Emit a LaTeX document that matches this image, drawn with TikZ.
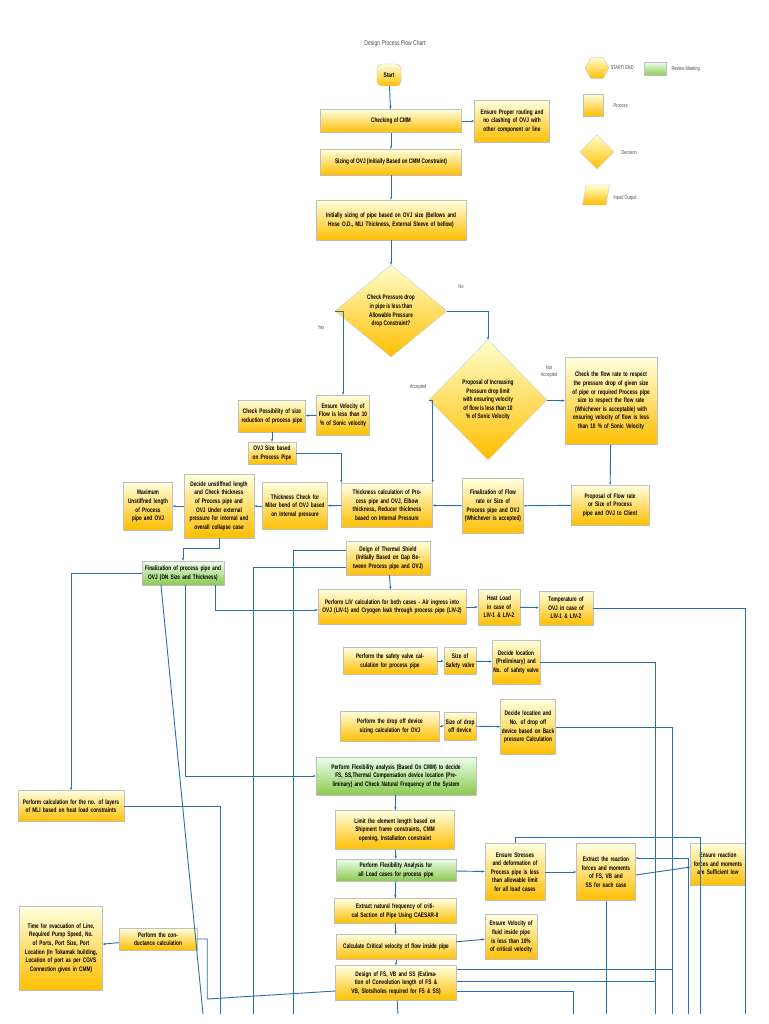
\documentclass[tikz,border=0pt]{standalone}
\usepackage{fontspec}
\setmainfont[FakeStretch=0.72]{Liberation Sans}
\usetikzlibrary{shapes.geometric,arrows.meta}
\definecolor{ln}{RGB}{40,110,180}
\definecolor{yb}{RGB}{255,190,0}
\definecolor{gb}{RGB}{140,200,80}
\tikzset{
 bx/.style={draw=black!25,top color=yellow!12,bottom color=yb,align=center,inner sep=1pt,
  font=\fontsize{6.6}{8.6}\selectfont\bfseries,drop shadow/.try},
 gx/.style={bx,top color=green!8,bottom color=gb},
 dm/.style={diamond,draw=black!20,top color=yellow!20,bottom color=yb,align=center,inner sep=0pt,
  font=\fontsize{6.6}{8.6}\selectfont\bfseries},
 lab/.style={font=\fontsize{5.5}{7}\selectfont,text=black!70},
 ar/.style={draw=ln,line width=0.9pt,-{Stealth[length=3pt]}},
 li/.style={draw=ln,line width=0.9pt},
}
\begin{document}
\begin{tikzpicture}[x=1pt,y=-1pt]
\useasboundingbox (0,0) rectangle (768,1024);
\fill[white] (0,0) rectangle (768,1024);
\node[lab,font=\fontsize{7}{8}\selectfont] (title) at (395,44) {Design Process Flow Chart};
% legend
\node[regular polygon,regular polygon sides=6,draw=black!20,top color=yellow!20,bottom color=yb,minimum size=24pt,inner sep=0] (lg1) at (597,68) {};
\node[lab,anchor=west] (lg1t) at (607,68) {START/ END};
\node[gx,minimum width=22pt,minimum height=13pt] (lg2) at (655,69) {};
\node[lab,anchor=west] (lg2t) at (668,69) {Review Meeting};
\node[bx,minimum width=20pt,minimum height=22pt] (lg3) at (593,105) {};
\node[lab,anchor=west] (lg3t) at (610,106) {Process};
\node[dm,minimum width=34pt,minimum height=34pt] (lg4) at (597,152) {};
\node[lab,anchor=west] (lg4t) at (618,153) {Decision};
\node[trapezium,trapezium left angle=80,trapezium right angle=100,draw=black!20,top color=yellow!20,bottom color=yb,minimum width=16pt,minimum height=20pt] (lg5) at (596,195) {};
\node[lab,anchor=west] (lg5t) at (610,198) {Input/ Output};
% main
\node[bx,rounded corners=5pt,minimum width=24pt,minimum height=22pt] (start) at (389,75) {Start};
\node[bx,minimum width=141pt,minimum height=23pt] (cmm) at (391,121) {Checking of CMM};
\node[bx,text width=73pt,minimum height=42pt] (route) at (512,121) {Ensure Proper routing and no clashing of OVJ with other component or line};
\node[bx,minimum width=141pt,minimum height=26pt] (sizing) at (391,162) {Sizing of OVJ (Initially Based on CMM Constraint)};
\node[bx,text width=148pt,minimum height=40pt] (init) at (391,220) {Initially sizing of pipe based on OVJ size (Bellows and Hose O.D., MLI Thickness, External Sleeve of bellow)};
\node[dm,minimum width=112pt,minimum height=92pt] (d1) at (391,311) {Check Pressure drop\\in pipe is less than\\Allowable Pressure\\drop Constraint?};
\node[lab] (yes) at (321,328) {Yes};
\node[lab] (no) at (461,287) {No};
\node[bx,text width=51pt,minimum height=40pt] (ensv) at (343,415) {Ensure Velocity of Flow is less than 10 \% of Sonic velocity};
\node[bx,text width=65pt,minimum height=32pt] (chkp) at (272,416) {Check Possibility of size reduction of process pipe};
\node[bx,text width=46pt,minimum height=22pt] (ovjs) at (272,453) {OVJ Size based on Process Pipe};
\node[dm,minimum width=118pt,minimum height=120pt] (d2) at (488,400) {Proposal of Increasing\\Pressure drop limit\\with ensuring velocity\\of flow is less than 10\\\% of Sonic Velocity};
\node[lab] (acc) at (418,387) {Accepted};
\node[lab,align=center] (nacc) at (549,372) {Not\\Accepted};
\node[bx,text width=90pt,minimum height=87pt] (chkf) at (611,401) {Check the flow rate to respect the pressure drop of given size of pipe or required Process pipe size to respect the flow rate (Whichever is acceptable) with ensuring velocity of flow is less than 10 \% of Sonic Velocity};
\node[bx,text width=76pt,minimum height=40pt] (prop) at (610,505) {Proposal of Flow rate or Size of Process pipe and OVJ to Client};
\node[bx,text width=59pt,minimum height=55pt] (finf) at (493,506) {Finalization of Flow rate or Size of Process pipe and OVJ (Whichever is accepted)};
\node[bx,text width=89pt,minimum height=44pt] (thk) at (387,505) {Thickness calculation of Process pipe and OVJ, Elbow thickness, Reducer thickness based on Internal Pressure};
\node[bx,text width=63pt,minimum height=47pt] (mit) at (295,506) {Thickness Check for Miter bend of OVJ based on Internal pressure};
\node[bx,text width=68pt,minimum height=64pt] (dec) at (219,506) {Decide unstiffned length and Check thickness of Process pipe and OVJ Under external pressure for internal and overall collapse case};
\node[bx,text width=47pt,minimum height=48pt] (maxu) at (148,506) {Maximum Unstiffned length of Process pipe and OVJ};
\node[bx,text width=82pt,minimum height=34pt] (ts) at (388,558) {Deign of Thermal Shield (Initially Based on Gap Between Process pipe and OVJ)};
\node[gx,text width=80pt,minimum height=24pt] (finp) at (183,573) {Finalization of process pipe and OVJ (DN Size and Thickness)};
\node[bx,text width=146pt,minimum height=35pt] (liv) at (392,607) {Perform LIV calculation for both cases - Air ingress into OVJ (LIV-1) and Cryogen leak through process pipe (LIV-2)};
\node[bx,text width=40pt,minimum height=36pt] (heat) at (499,607) {Heat Load in case of LIV-1 \& LIV-2};
\node[bx,text width=52pt,minimum height=34pt] (temp) at (566,608) {Temperature of OVJ in case of LIV-1 \& LIV-2};
\node[bx,text width=92pt,minimum height=27pt] (sv) at (390,661) {Perform the safety valve calculation for process pipe};
\node[bx,text width=30pt,minimum height=27pt] (svs) at (460,661) {Size of Safety valve};
\node[bx,text width=46pt,minimum height=44pt] (svd) at (516,662) {Decide location (Preliminary) and No. of safety valve};
\node[bx,text width=97pt,minimum height=30pt] (dr) at (390,726) {Perform the drop off device sizing calculation for OVJ};
\node[bx,text width=30pt,minimum height=28pt] (drs) at (460,726) {Size of drop off device};
\node[bx,text width=53pt,minimum height=55pt] (drd) at (528,727) {Decide location and No. of drop off device based on Back pressure Calculation};
\node[gx,text width=158pt,minimum height=38pt] (flex) at (396,776) {Perform Flexibility analysis (Based On CMM) to decide FS, SS,Thermal Compensation device location (Preliminary) and Check Natural Frequency of the System};
\node[bx,text width=104pt,minimum height=31pt] (mli) at (71,806) {Perform calculation for the no. of layers of MLI based on heat load constraints};
\node[bx,text width=117pt,minimum height=39pt] (lim) at (395,830) {Limit the element length based on Shipment frame constraints, CMM opening, Installation constraint};
\node[gx,text width=118pt,minimum height=22pt] (flx2) at (396,870) {Perform Flexibility Analysis for all Load cases for process pipe};
\node[bx,text width=58pt,minimum height=57pt] (es) at (515,872) {Ensure Stresses and deformation of Process pipe is less than allowable limit for all load cases};
\node[bx,text width=57pt,minimum height=57pt] (er) at (606,872) {Extract the reaction forces and moments of FS, VB and SS for each case};
\node[bx,text width=53pt,minimum height=42pt] (erf) at (718,864) {Ensure reaction forces and moments are Sufficient low};
\node[bx,text width=120pt,minimum height=25pt] (nat) at (395,911) {Extract natural frequency of critical Section of Pipe Using CAESAR-II};
\node[bx,text width=50pt,minimum height=45pt] (evf) at (511,937) {Ensure Velocity of fluid inside pipe is less than 10\% of critical velocity};
\node[bx,text width=118pt,minimum height=25pt] (crit) at (396,947) {Calculate Critical velocity of flow inside pipe};
\node[bx,text width=119pt,minimum height=35pt] (fs) at (396,983) {Design of FS, VB and SS (Estimation of Convolution length of FS \& VB, Slots/holes required for FS \& SS)};
\node[bx,text width=76pt,minimum height=22pt] (cond) at (158,939) {Perform the conductance calculation};
\node[bx,text width=81pt,minimum height=84pt] (time) at (61,948) {Time for evacuation of Line, Required Pump Speed, No. of Ports, Port Size, Port Location (In Tokamak building, Location of port as per CGVS Connection given in CMM)};
% bottom free ends
\foreach \n/\x in {b1/220,b2/253,b3/293,b4/203,b5/573,b6/603,b7/655,b8/672,b9/700,b10/745,b11/688,b12/398}
  \coordinate (\n) at (\x,1014);
% connectors
\draw[ar] (start) -- (cmm);
\draw[ar] (cmm) -- (route);
\draw[ar] (cmm) -- (sizing);
\draw[ar] (sizing) -- (init);
\draw[ar] (init) -- (d1);
\draw[ar] (d1.west) -| (ensv.north);
\draw[ar] (d1.east) -| (d2.north);
\draw[ar] (ensv) -- (chkp);
\draw[ar] (chkp) -- (ovjs);
\draw[ar] (ovjs.east) -| (thk.north west);
\draw[ar] (d2.west) -| (thk.north east);
\draw[ar] (d2) -- (chkf);
\draw[ar] (chkf) -- (prop);
\draw[ar] (prop) -- (finf);
\draw[ar] (finf) -- (thk);
\draw[ar] (thk) -- (mit);
\draw[ar] (mit) -- (dec);
\draw[ar] (dec) -- (maxu);
\draw[ar] (dec.south) -- ++(0,10) -| (finp.north);
\draw[ar] ([xshift=32pt]finp.south) |- ([yshift=-3pt]liv.west);
\draw[ar] (ts) -- (liv);
\draw[ar] (liv) -- (heat);
\draw[ar] (heat) -- (temp);
\draw[li] (temp.east) -| (b10);
\draw[ar] (sv) -- (svs);
\draw[ar] (svs) -- (svd);
\draw[ar] (dr) -- (drs);
\draw[ar] (drs) -- (drd);
\draw[li] (drd.east) -| (b8);
\draw[li] (svd.east) -| (b7);
\draw[ar] (finp.west) -| (mli.north);
\draw[ar] ([xshift=2pt]finp.south) |- (flex.west);
\draw[li] ([xshift=-22pt]finp.south) -- (b4);
\draw[li] ([yshift=-9pt]ts.west) -| (b2);
\draw[li] ([yshift=8pt]ts.west) -| (b3);
\draw[li] (mli.east) -| (b1);
\draw[ar] (flex) -- (lim);
\draw[ar] (lim) -- (flx2);
\draw[ar] (flx2) -- (nat);
\draw[ar] (nat) -- (crit);
\draw[ar] (crit) -- (fs);
\draw[li] (fs) -- (b12);
\draw[ar] (flx2) -- (es);
\draw[ar] (es) -- (er);
\draw[ar] ([yshift=-3pt]er.east) -- ([yshift=-3pt]erf.west);
\draw[li] (es.north) -- ++(0,-6) -| (b9);
\draw[li] (er.south) -- (er.south |- b6);
\draw[ar] (b11) |- ([yshift=14pt]er.east);
\draw[ar] (crit) -- (evf);
\draw[ar] (cond) -- (time);
\draw[li] (cond.east) -| ++(10,60) -- ([yshift=-8pt]fs.west);
\draw[li] ([yshift=-8pt]fs.east) -| (b5);
\draw[li] ([yshift=2pt]fs.east) -| (655,1014);
\draw[li] ([yshift=14pt]fs.east) -| (b8);
\end{tikzpicture}
\end{document}
